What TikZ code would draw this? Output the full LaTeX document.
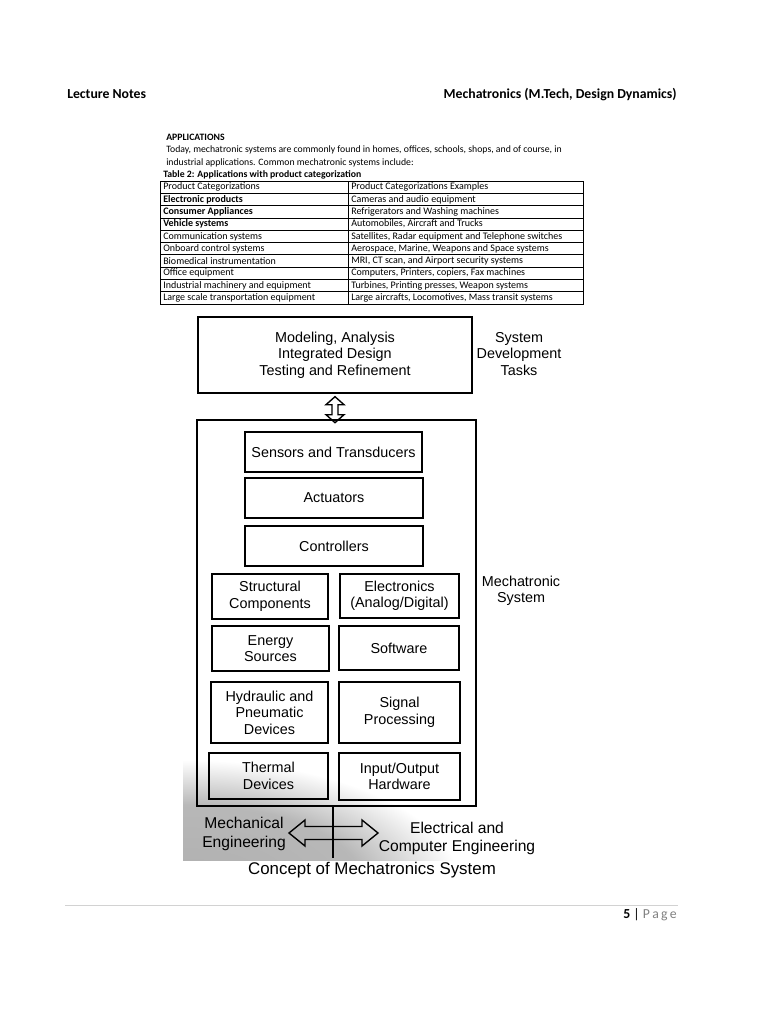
\documentclass[tikz,border=0pt]{standalone}
\usepackage{fontspec}
\setmainfont{Liberation Sans}
\newfontfamily\calfont{Carlito}

\newcommand{\pxu}{0.0281cm}
\newcommand{\dgfont}{\fontsize{11.5}{13.2}\selectfont}
\newcommand{\engfont}{\fontsize{12.5}{14.6}\selectfont}
\newcommand{\tabfont}{\calfont\fontsize{8}{9}\selectfont}
\newcommand{\parfont}{\calfont\fontsize{7.8}{9}\selectfont}
\newcommand{\hdfont}{\calfont\fontsize{11}{13}\selectfont}

\pgfdeclareradialshading{scanshade}{\pgfpoint{0bp}{0bp}}{color(0bp)=(gray!62); color(16bp)=(gray!56); color(25bp)=(white); color(50bp)=(white)}

\tikzset{
	blk/.style 2 args={draw, line width=1.1pt, inner sep=0pt, align=center, font=\dgfont,
		minimum width={#1*\pxu}, minimum height={#2*\pxu}},
	hollow/.style={draw, line width=1.1pt},
	side/.style={align=center, font=\dgfont},
	eng/.style={align=center, font=\engfont},
	tabtxt/.style={anchor=west, inner sep=0pt, font=\tabfont},
	partxt/.style={anchor=west, inner sep=0pt, font=\parfont},
}

\begin{document}
\begin{tikzpicture}[x=\pxu, y=-\pxu]
		\useasboundingbox (0,0) rectangle (768,1024);

		% header and footer of the page
		\node[anchor=base west, inner sep=0pt, font=\hdfont\bfseries] (hdleft) at (67,98) {Lecture Notes};
		\node[anchor=base east, inner sep=0pt, font=\hdfont\bfseries] (hdright) at (677,98) {Mechatronics (M.Tech, Design Dynamics)};
		\draw[gray!35, line width=0.6pt] (65,905) coordinate (footl) -- (678,905) coordinate (footr);
		\node[anchor=base east, inner sep=0pt, font=\hdfont] (pagenum) at (677,918) {\textbf{5} | {\color{gray}P\,a\,g\,e}};

		% applications text and table
		\node[partxt, font=\parfont\bfseries] (apphead) at (166,137) {APPLICATIONS};
		\node[partxt] (apptext1) at (166,150) {Today, mechatronic systems are commonly found in homes, offices, schools, shops, and of course, in};
		\node[partxt] (apptext2) at (166,163) {industrial applications. Common mechatronic systems include:};
		\node[partxt, font=\parfont\bfseries] (tabcap) at (163,175) {Table 2: Applications with product categorization};

		\draw[line width=0.5pt] (160,181) rectangle (583,304);
		\draw[line width=0.5pt] (348,181) -- (348,304);
		\foreach \r in {1,...,9}
			\draw[line width=0.5pt] (160,{181+12.3*\r}) -- (583,{181+12.3*\r});
		\foreach \cat/\ex [count=\i from 0] in {
			{Product Categorizations}/{Product Categorizations Examples},
			{\bfseries Electronic products}/{Cameras and audio equipment},
			{\bfseries Consumer Appliances}/{Refrigerators and Washing machines},
			{\bfseries Vehicle systems}/{Automobiles, Aircraft and Trucks},
			{Communication systems}/{Satellites, Radar equipment and Telephone switches},
			{Onboard control systems}/{Aerospace, Marine, Weapons and Space systems},
			{Biomedical instrumentation}/{MRI, CT scan, and Airport security systems},
			{Office equipment}/{Computers, Printers, copiers, Fax machines},
			{Industrial machinery and equipment}/{Turbines, Printing presses, Weapon systems},
			{Large scale transportation equipment}/{Large aircrafts, Locomotives, Mass transit systems}} {
			\node[tabtxt] (cat\i) at (163,{187.2+12.3*\i}) {\cat};
			\node[tabtxt] (ex\i) at (351,{187.2+12.3*\i}) {\ex};
		}

		% scan shadow at the bottom of the figure
		\begin{scope}
			\clip (183,700) rectangle (600,860);
			\shade[shading=scanshade] (190,885) ellipse [x radius=270, y radius=125];
		\end{scope}

		% development tasks
		\node[blk={274}{76}] (devt) at (335,355) {Modeling, Analysis\\Integrated Design\\Testing and Refinement};
		\node[side] (devlabel) at (519,354) {System\\Development\\Tasks};
		\draw[hollow, shift={(devt.south)}] (0,3) -- (9,11) -- (3,11) -- (3,21) -- (9,21) -- (0,29) -- (-9,21) -- (-3,21) -- (-3,11) -- (-9,11) -- cycle;

		% mechatronic system
		\node[blk={279}{386}] (mechsys) at (336.5,613) {};
		\node[side] (mechlabel) at (521,591) {Mechatronic\\System};
		\node[blk={177}{40}] (sens) at (333.5,452) {Sensors and Transducers};
		\node[blk={178}{40}] (act) at (334,498) {Actuators};
		\node[blk={178}{40}] (ctrl) at (334,546) {Controllers};
		\node[blk={116}{45}] (struct) at (270,596.5) {Structural\\Components};
		\node[blk={119}{44}] (elec) at (399.5,596) {Electronics\\(Analog/Digital)};
		\node[blk={117}{45}] (energy) at (270.5,648.5) {Energy\\Sources};
		\node[blk={120}{44}] (soft) at (399,648) {Software};
		\node[blk={117}{61}] (hydr) at (269.5,712.5) {Hydraulic and\\Pneumatic\\Devices};
		\node[blk={121}{61}] (sigproc) at (399.5,712.5) {Signal\\Processing};
		\node[blk={119}{46}] (therm) at (268.5,776) {Thermal\\Devices};
		\node[blk={121}{47}] (iohw) at (399.5,776.5) {Input/Output\\Hardware};

		% engineering fields
		\node[eng] (mecheng) at (244,834) {Mechanical\\Engineering};
		\node[eng] (eleceng) at (457,838.5) {Electrical and\\Computer Engineering};
		\coordinate (split) at (333,858);
		\draw[hollow, shift={(333.5,833)}] (-44.5,0) -- (-28.5,-13) -- (-28.5,-6.5) -- (28.5,-6.5) -- (28.5,-13) -- (44.5,0) -- (28.5,13) -- (28.5,6.5) -- (-28.5,6.5) -- (-28.5,13) -- cycle;
		\draw[line width=1.1pt] (mechsys.south -| split) -- (split);

		\node[font=\fontsize{13.5}{16}\selectfont] (caption) at (372,870) {Concept of Mechatronics System};
	\end{tikzpicture}
\end{document}
